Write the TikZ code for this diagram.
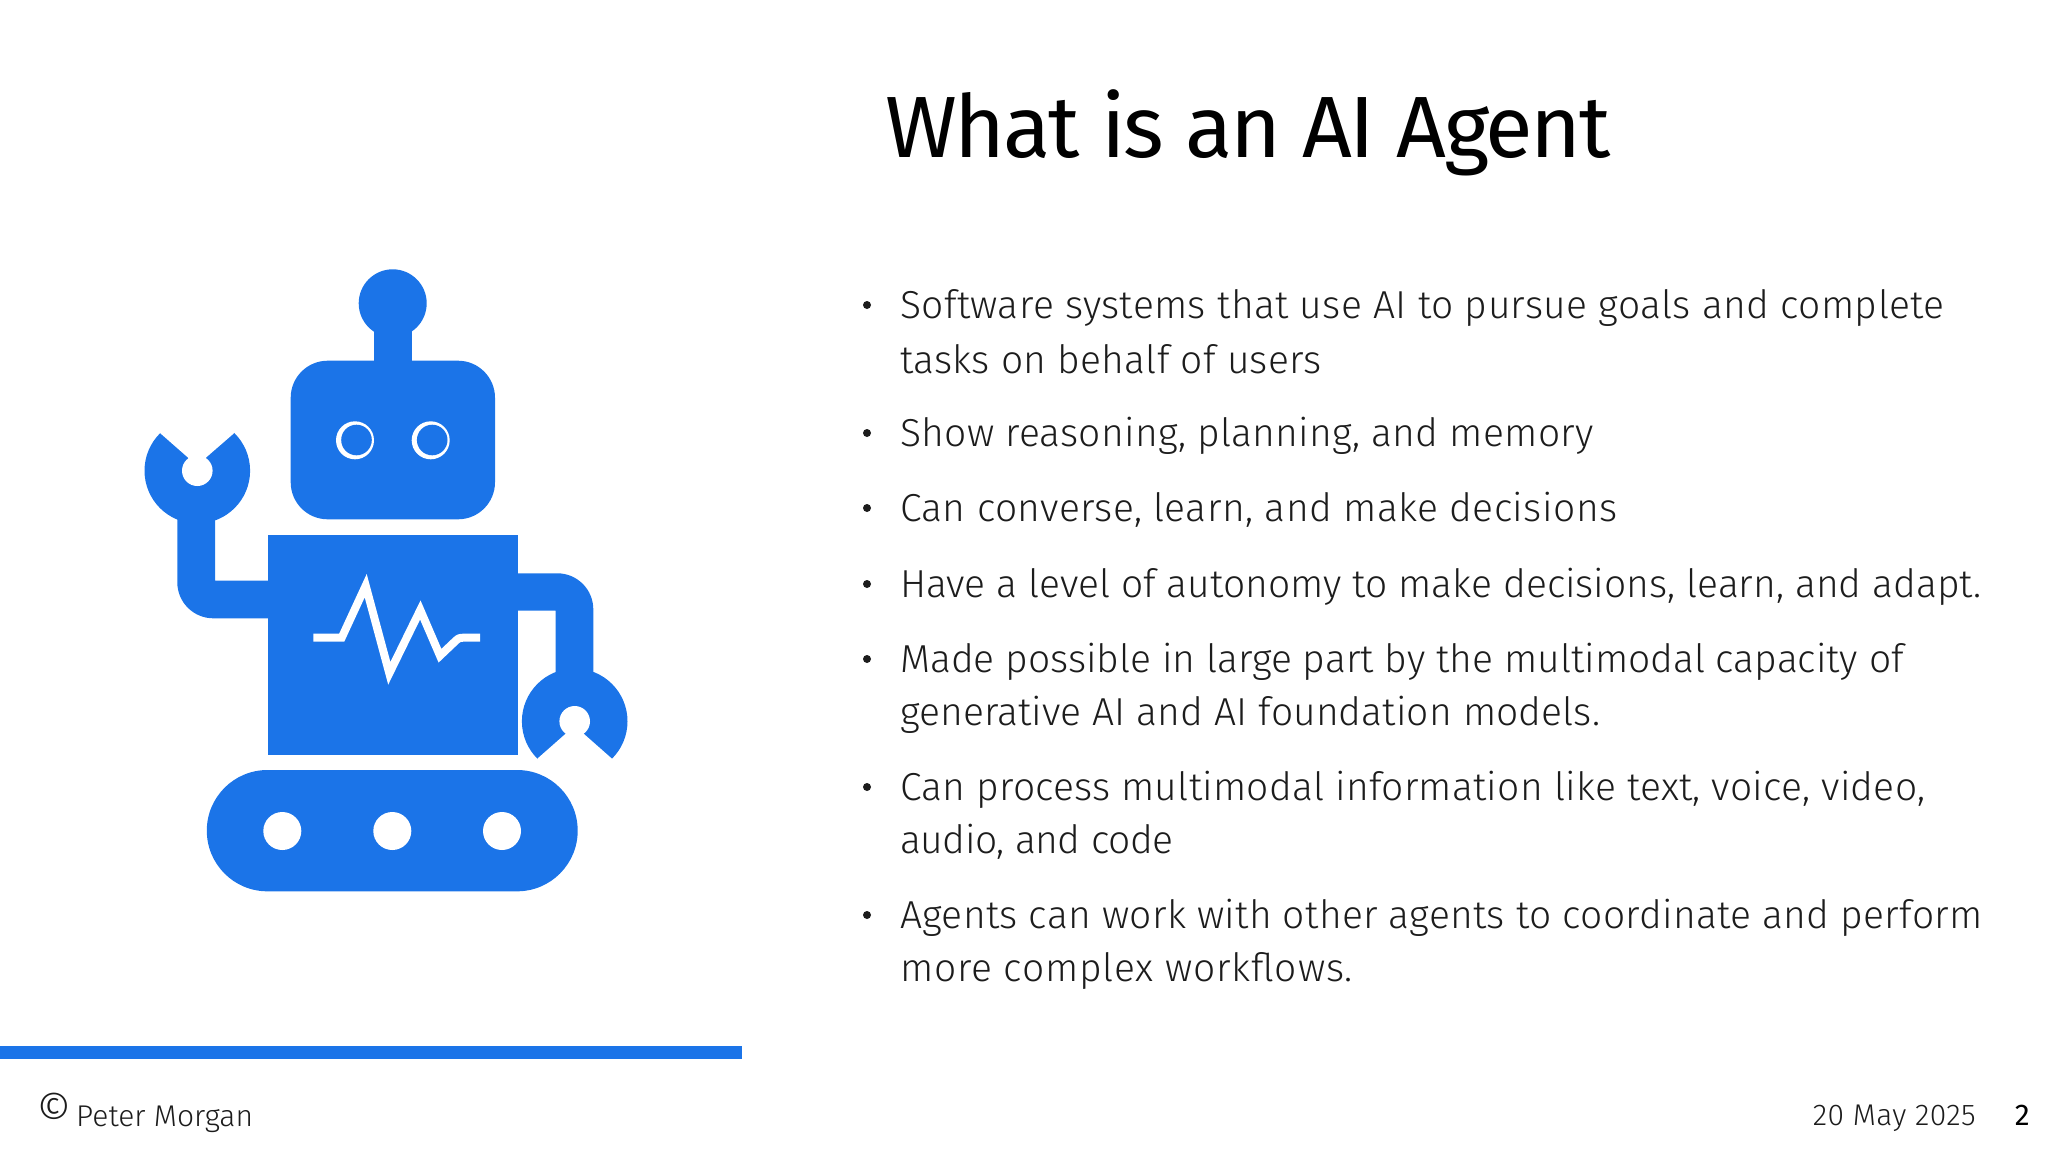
\documentclass[tikz,border=0pt]{standalone}
\usepackage{fontspec}
\setmainfont{Fira Sans Light}
\newfontfamily\titlefont{Fira Sans}
\definecolor{agentblue}{HTML}{1B74E8}
\definecolor{inkgrey}{HTML}{1C1C1C}
\tikzset{
  bodyline/.style={anchor=base west, inner sep=0pt, text=inkgrey, font=\fontsize{39}{39}\selectfont\addfontfeature{LetterSpace=#1}},
  bodyline/.default=0,
  bulletdot/.style={circle, fill=inkgrey, minimum size=8pt, inner sep=0pt},
  footline/.style={inner sep=0pt, text=inkgrey, font=\fontsize{30}{30}\selectfont}
}

\begin{document}
\begin{tikzpicture}[x=1pt,y=-1pt]
  \useasboundingbox (0,0) rectangle (2048,1152);

  % robot head
  \fill[agentblue] (392.7,303.3) circle (34);
  \fill[agentblue] (374,320) rectangle (411.7,365);
  \fill[agentblue, rounded corners=37pt] (290.7,360.7) rectangle (495,519.3);
  \fill[white] (355,440.3) circle (19);
  \fill[white] (430.7,440.3) circle (19);
  \fill[agentblue] (356.5,440) circle (15.3);
  \fill[agentblue] (432.2,440) circle (15.3);

  % arms
  \fill[agentblue] (177.3,500) [rounded corners=36pt] -- (177.3,618.3) [sharp corners] -- (300,618.3) -- (300,580.7) -- (215,580.7) -- (215,500) -- cycle;
  \fill[agentblue] (500,610.7) -- (555.7,610.7) -- (555.7,700) -- (593.3,700) [rounded corners=36pt] -- (593.3,573.3) [sharp corners] -- (500,573.3) -- cycle;

  % robot body
  \fill[agentblue] (268,535) rectangle (517.7,755);
  \draw[white, line width=8pt] (313.3,637.7) -- (341.7,637.7) -- (365.7,585.7) -- (389.3,673.3) -- (420.3,610) -- (440,655.7) -- (456,640.5) .. controls (459,638) .. (463,637.7) -- (480,637.7);

  % wrenches
  \fill[agentblue] (197.3,470.7) circle (52.8);
  \fill[white] (197.3,470.7) circle (15.3);
  \fill[white] (187.7,457.3) -- (160,433) -- (160,400) -- (234.3,400) -- (234.3,433) -- (206.3,457.3) -- (197.3,470.7) -- cycle;
  \fill[agentblue] (574.7,721.3) circle (52.8);
  \fill[white] (574.7,721.3) circle (15.3);
  \fill[white] (565.3,734) -- (537.3,758.7) -- (537.3,790) -- (612,790) -- (612,758.7) -- (584,734) -- (574.7,721.3) -- cycle;

  % tread
  \fill[agentblue, rounded corners=60.6pt] (206.8,770) rectangle (577.7,891.3);
  \fill[white] (282.3,831) circle (19);
  \fill[white] (392.3,831) circle (19);
  \fill[white] (502,831) circle (19);

  % title and text
  \node[anchor=base west, inner sep=0pt, text=black, font=\fontsize{87}{87}\titlefont\addfontfeature{LetterSpace=-2.5}] (title) at (885,157) {What is an AI Agent};

  \node[bulletdot] (dotA) at (867,305) {};
  \node[bodyline=0.96] (lineA) at (900,318) {Software systems that use AI to pursue goals and complete};
  \node[bodyline=0.76] (lineB) at (900,373) {tasks on behalf of users};
  \node[bulletdot] (dotB) at (867,433) {};
  \node[bodyline=0.67] (lineC) at (900,446) {Show reasoning, planning, and memory};
  \node[bulletdot] (dotC) at (867,508) {};
  \node[bodyline=1.06] (lineD) at (900,521) {Can converse, learn, and make decisions};
  \node[bulletdot] (dotD) at (867,584) {};
  \node[bodyline] (lineE) at (900,597) {Have a level of autonomy to make decisions, learn, and adapt.};
  \node[bulletdot] (dotE) at (867,659) {};
  \node[bodyline] (lineF) at (900,672) {Made possible in large part by the multimodal capacity of};
  \node[bodyline=0.26] (lineG) at (900,725) {generative AI and AI foundation models.};
  \node[bulletdot] (dotF) at (867,787) {};
  \node[bodyline=0.59] (lineH) at (900,800) {Can process multimodal information like text, voice, video,};
  \node[bodyline=-1.2] (lineI) at (900,853) {audio, and code};
  \node[bulletdot] (dotG) at (867,915) {};
  \node[bodyline=0.69] (lineJ) at (900,928) {Agents can work with other agents to coordinate and perform};
  \node[bodyline=1.98] (lineK) at (900,981) {more complex workflows.};

  % footer
  \fill[agentblue] (0,1046) rectangle (742,1059);
  \node[footline, font=\fontsize{44}{44}\selectfont] (copymark) at (54,1109) {©};
  \node[footline, anchor=base west] (author) at (76,1126) {Peter Morgan};
  \node[footline, anchor=base east, font=\fontsize{30}{30}\selectfont\addfontfeature{LetterSpace=1.3}] (date) at (1976,1125) {20 May 2025};
  \node[footline, anchor=base east, text=black, font=\fontsize{30}{30}\titlefont] (pagenum) at (2030,1125) {2};
\end{tikzpicture}
\end{document}
